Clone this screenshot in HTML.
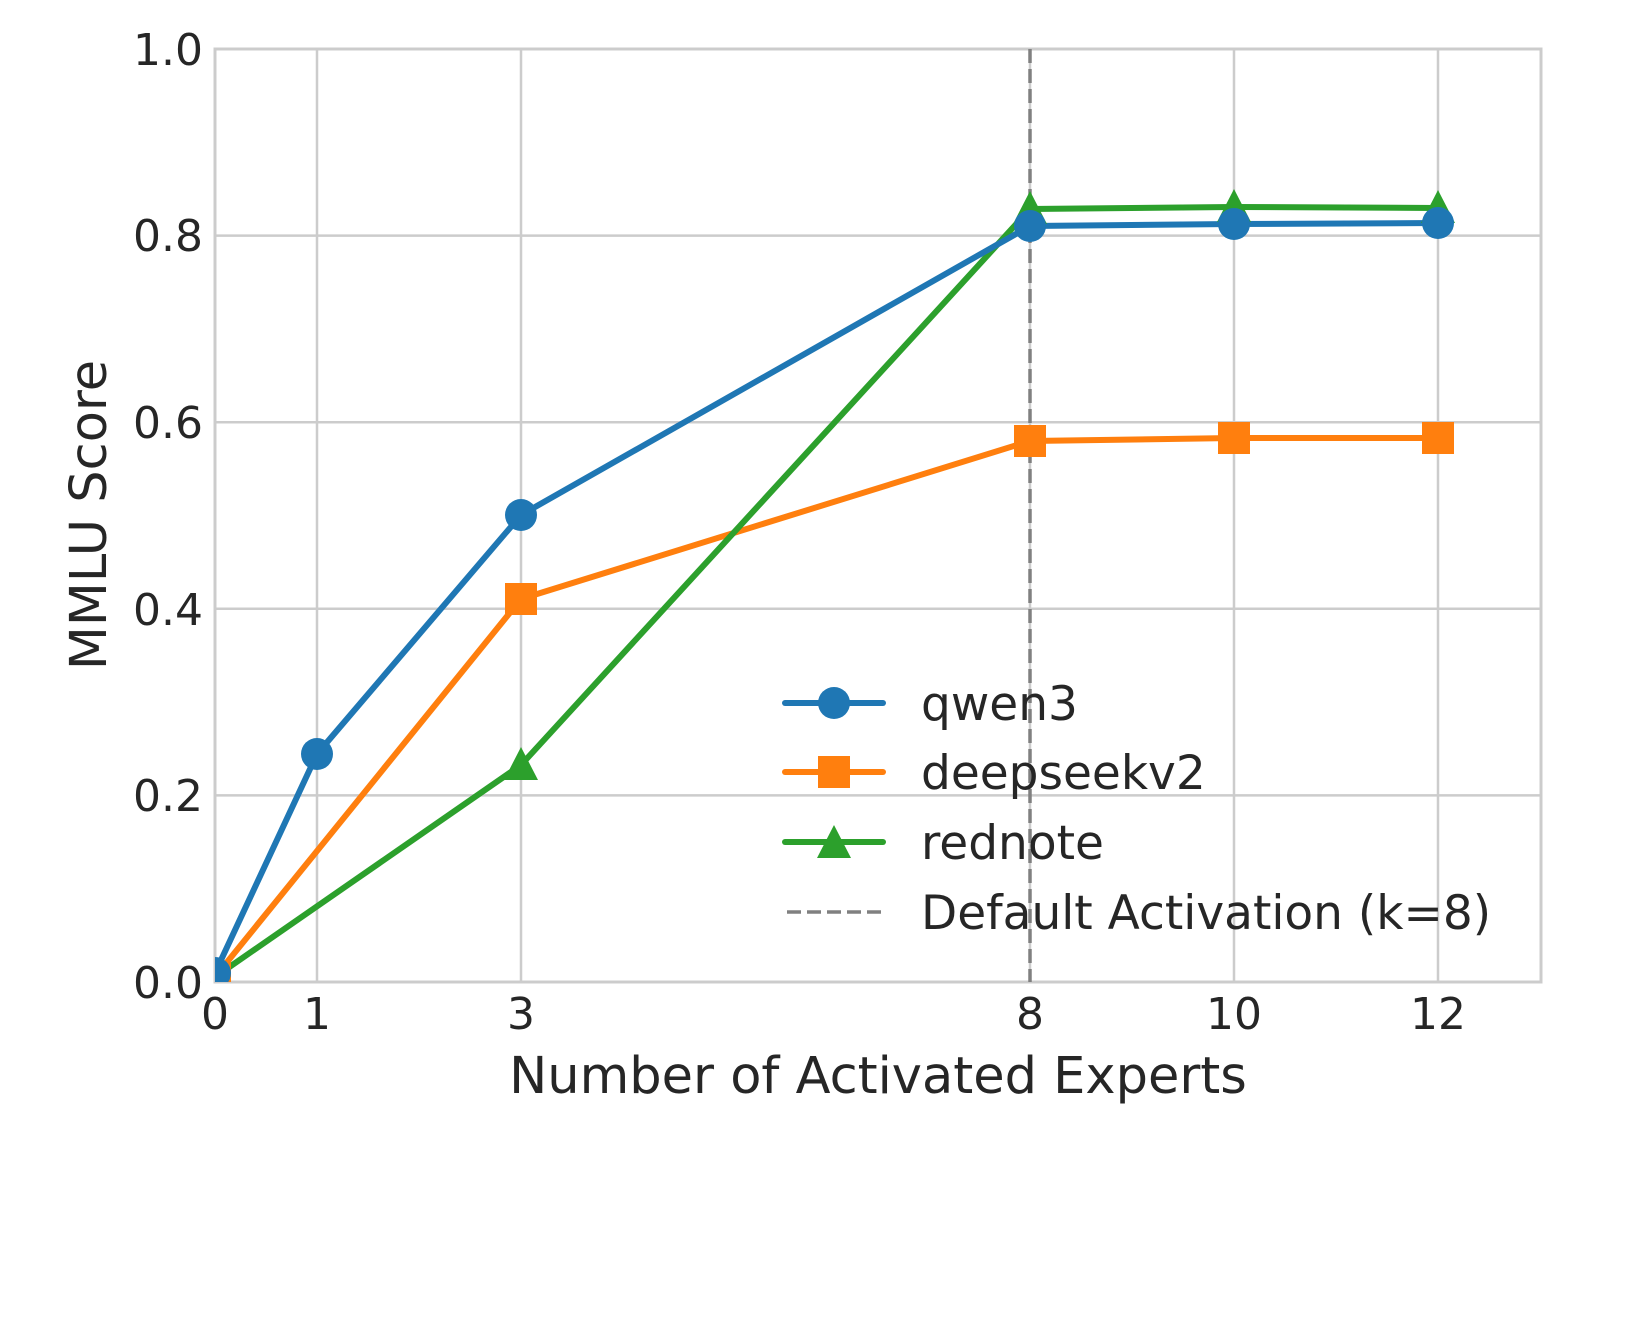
<!DOCTYPE html>
<html><head><meta charset="utf-8"><style>body{margin:0;background:#fff}svg{display:block}</style></head>
<body>
<svg width="1628" height="1320" viewBox="0 0 1628 1320" xmlns="http://www.w3.org/2000/svg" font-family="DejaVu Sans, Liberation Sans, sans-serif" fill="#262626">
<defs><clipPath id="c"><rect x="215" y="49" width="1326" height="933"/></clipPath></defs>
<rect width="1628" height="1320" fill="#fff"/>
<g stroke="#cccccc" stroke-width="2.5">
<line x1="215" y1="795.4" x2="1541" y2="795.4"/>
<line x1="215" y1="608.8" x2="1541" y2="608.8"/>
<line x1="215" y1="422.2" x2="1541" y2="422.2"/>
<line x1="215" y1="235.6" x2="1541" y2="235.6"/>
<line x1="317" y1="49" x2="317" y2="982"/>
<line x1="521" y1="49" x2="521" y2="982"/>
<line x1="1030" y1="49" x2="1030" y2="982"/>
<line x1="1234" y1="49" x2="1234" y2="982"/>
<line x1="1438" y1="49" x2="1438" y2="982"/>
</g>
<rect x="215" y="49" width="1326" height="933" fill="none" stroke="#cccccc" stroke-width="3"/>
<line x1="1030" y1="49" x2="1030" y2="982" stroke="#808080" stroke-width="3.5" stroke-dasharray="14,6"/>
<g clip-path="url(#c)">
<g fill="none" stroke-width="6" stroke-linejoin="round" stroke-linecap="round">
<polyline stroke="#ff7f0e" points="215,977 521,599 1030,441 1234,438 1438,438"/>
<polyline stroke="#2ca02c" points="215,977 521,765 1030,209 1234,207 1438,208"/>
<polyline stroke="#1f77b4" points="215,973 317,754 521,515 1030,226 1234,224 1438,223"/>
</g>
<g fill="#ff7f0e">
<rect x="199" y="961" width="32" height="32"/><rect x="505" y="583" width="32" height="32"/><rect x="1014" y="425" width="32" height="32"/><rect x="1218" y="422" width="32" height="32"/><rect x="1422" y="422" width="32" height="32"/>
</g>
<g fill="#2ca02c">
<polygon points="215,960 232,993 198,993"/>
<polygon points="521,747 538,780 504,780"/><polygon points="1030,191 1047,224 1013,224"/><polygon points="1234,189 1251,222 1217,222"/><polygon points="1438,190 1455,223 1421,223"/>
</g>
<g fill="#1f77b4">
<circle cx="215" cy="973" r="16"/><circle cx="317" cy="754" r="16"/><circle cx="521" cy="515" r="16"/><circle cx="1030" cy="226" r="16"/><circle cx="1234" cy="224" r="16"/><circle cx="1438" cy="223" r="16"/>
</g>
</g>
<g font-size="44" text-anchor="end">
<text x="203" y="998">0.0</text><text x="203" y="811">0.2</text><text x="203" y="625">0.4</text><text x="203" y="438">0.6</text><text x="203" y="251">0.8</text><text x="203" y="65">1.0</text>
</g>
<g font-size="44" text-anchor="middle">
<text x="215" y="1029">0</text><text x="317" y="1029">1</text><text x="521" y="1029">3</text><text x="1030" y="1029">8</text><text x="1234" y="1029">10</text><text x="1438" y="1029">12</text>
</g>
<text x="878" y="1093" font-size="51" text-anchor="middle">Number of Activated Experts</text>
<text transform="translate(106,515) rotate(-90)" font-size="51" text-anchor="middle">MMLU Score</text>
<g stroke-width="6" stroke-linecap="round">
<line x1="785" y1="703" x2="883" y2="703" stroke="#1f77b4"/>
<line x1="785" y1="772" x2="883" y2="772" stroke="#ff7f0e"/>
<line x1="785" y1="842" x2="883" y2="842" stroke="#2ca02c"/>
<line x1="787" y1="912" x2="881" y2="912" stroke="#808080" stroke-width="3.5" stroke-linecap="butt" stroke-dasharray="14,6"/>
</g>
<circle cx="834" cy="703" r="16" fill="#1f77b4"/>
<rect x="818" y="756" width="32" height="32" fill="#ff7f0e"/>
<polygon points="834,825 851,858 817,858" fill="#2ca02c"/>
<g font-size="47">
<text x="921" y="720">qwen3</text><text x="921" y="789">deepseekv2</text><text x="921" y="859">rednote</text><text x="921" y="929">Default Activation (k=8)</text>
</g>
</svg>
</body></html>
